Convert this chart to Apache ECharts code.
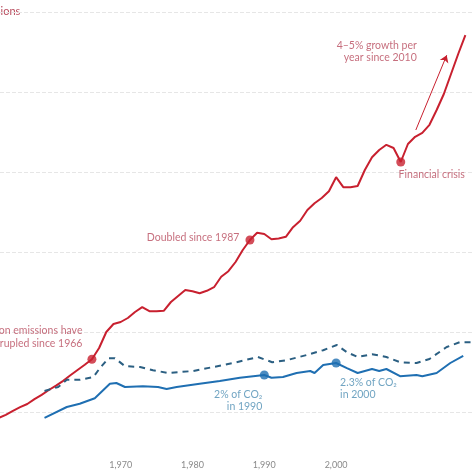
<!DOCTYPE html>
<html><head><meta charset="utf-8">
<script src="https://cdn.jsdelivr.net/npm/echarts@6/dist/echarts.min.js"></script>
<style>html,body{margin:0;padding:0;background:#fff}#c{width:474px;height:474px}</style>
</head><body><div id="c"></div>
<script>
const redYears = [1953,1954,1955,1956,1957,1958,1959,1960,1961,1962,1963,1964,1965,1966,1967,1968,1969,1970,1971,1972,1973,1974,1975,1976,1977,1978,1979,1980,1981,1982,1983,1984,1985,1986,1987,1988,1989,1990,1991,1992,1993,1994,1995,1996,1997,1998,1999,2000,2001,2002,2003,2004,2005,2006,2007,2008,2009,2010,2011,2012,2013,2014,2015,2016,2017,2018];
const redValues = [185,193,203,212,220,232,243,255,266,278,292,305,318,332,360,400,420,425,435,450,462,452,452,453,475,490,505,502,497,503,512,538,552,575,605,630,648,645,632,634,638,662,678,705,722,735,752,787,762,762,765,805,837,855,868,860,825,870,888,898,918,955,995,1045,1095,1142];
const solidYears = [1959.4,1962.5,1964.3,1966.4,1968.5,1969.4,1970.6,1973.1,1975.2,1976.4,1977.8,1981,1983.8,1986.6,1990,1991,1992.6,1994.5,1996.4,1997,1998.2,2000,2001.5,2003,2005,2006,2007,2008.9,2011.2,2012,2014,2015.9,2017.7];
const solidValues = [0.93,1.2,1.28,1.42,1.78,1.8,1.7,1.72,1.7,1.65,1.7,1.78,1.85,1.93,2.0,1.93,1.95,2.05,2.1,2.05,2.25,2.3,2.17,2.05,2.15,2.1,2.15,1.97,2.0,1.97,2.05,2.3,2.48];
const dashYears = [1959.4,1961.3,1962.5,1964.3,1966.2,1967.1,1968.3,1969.2,1970.6,1972.7,1974.5,1976.6,1980.1,1982.9,1985.7,1989.1,1991.1,1993.1,1995.9,1998.2,2000.1,2001.5,2003,2005,2007,2008.9,2011.2,2013,2015.4,2017.2,2019];
const dashValues = [1.6,1.7,1.88,1.88,1.95,2.17,2.42,2.42,2.22,2.2,2.12,2.05,2.1,2.2,2.3,2.45,2.32,2.37,2.5,2.62,2.75,2.57,2.45,2.52,2.45,2.32,2.3,2.4,2.7,2.82,2.82];
const xTicks = [1960,1970,1980,1990,2000,2010];
const yGrid = [200,400,600,800,1000,1200];

const RED='#c8202f', RTXT='#b84a5c', BLUE='#1f6fb2', DBLUE='#2b5f82', BTXT='#4c8db3';
const pair=(a,b)=>a.map((v,i)=>[v,b[i]]);
const redAt=y=>redValues[redYears.indexOf(y)];
const font='Lato';
const chart=echarts.init(document.getElementById('c'));
chart.setOption({
  animation:false,
  textStyle:{fontFamily:font},
  grid:{left:0,right:0,top:0,bottom:0,outerBoundsMode:'none'},
  xAxis:{type:'value',min:1953.2,max:2019.2,
    axisLine:{show:false},axisTick:{show:false},splitLine:{show:false},
    axisLabel:{margin:-13,customValues:xTicks,color:'#8a8a8a',fontSize:9,fontFamily:font,showMinLabel:false,showMaxLabel:false}},
  yAxis:[{type:'value',min:45,max:1230,axisLine:{show:false},axisTick:{show:false},axisLabel:{show:false},splitLine:{show:false}},
    {type:'value',min:-0.475,max:11.375,show:false,splitLine:{show:false}}],
  graphic:[{type:'text',left:-49,top:6,style:{text:'CO₂ emissions',fill:RTXT,fontSize:11,fontFamily:font}}],
  series:[
    {type:'line',data:pair(redYears,redValues),showSymbol:false,lineStyle:{color:RED,width:2},z:3,
      markLine:{silent:true,symbol:['none','arrow'],symbolSize:7,label:{show:false},
        lineStyle:{color:RED,width:1,type:'solid'},
        data:[[{coord:[2011.1,905]},{coord:[2015.4,1092]}]]}},
    {type:'line',data:[],markLine:{silent:true,symbol:'none',label:{show:false},z:0,
      lineStyle:{color:'#e6e6e6',type:'dashed',width:1},data:yGrid.map(v=>({yAxis:v}))}},
    {type:'line',yAxisIndex:1,data:pair(solidYears,solidValues),showSymbol:false,lineStyle:{color:BLUE,width:2}},
    {type:'line',yAxisIndex:1,data:pair(dashYears,dashValues),showSymbol:false,lineStyle:{color:DBLUE,width:2,type:[6,5]}},
    {type:'scatter',symbolSize:9,itemStyle:{color:RED},z:5,
      data:[
        {value:[1966,redAt(1966)],label:{show:true,position:'left',offset:[0,-22],align:'right',color:RTXT,fontSize:10.5,lineHeight:13,
          formatter:'Aviation emissions have\nquadrupled since 1966'}},
        {value:[1988,redAt(1988)],label:{show:true,position:'left',offset:[-1,-2],color:RTXT,fontSize:10.5,formatter:'Doubled since 1987'}},
        {value:[2009,redAt(2009)],label:{show:true,position:'bottom',offset:[31,-2],color:RTXT,fontSize:10.5,formatter:'Financial crisis'}},
        {value:[2013.6,1100],symbolSize:0,label:{show:true,position:'left',align:'right',offset:[-12,0],color:RTXT,fontSize:10.5,lineHeight:12,
          formatter:'4–5% growth per\nyear since 2010'}}
      ]},
    {type:'scatter',yAxisIndex:1,symbolSize:9,itemStyle:{color:BLUE},z:5,
      data:[
        {value:[1990,2.0],label:{show:true,position:'bottom',align:'right',offset:[-2,4],color:BTXT,fontSize:10.5,lineHeight:12,formatter:'2% of CO₂\nin 1990'}},
        {value:[2000,2.3],label:{show:true,position:'bottom',align:'left',offset:[4,4],color:BTXT,fontSize:10.5,lineHeight:12,formatter:'2.3% of CO₂\nin 2000'}}
      ]}
  ]
});
</script></body></html>
